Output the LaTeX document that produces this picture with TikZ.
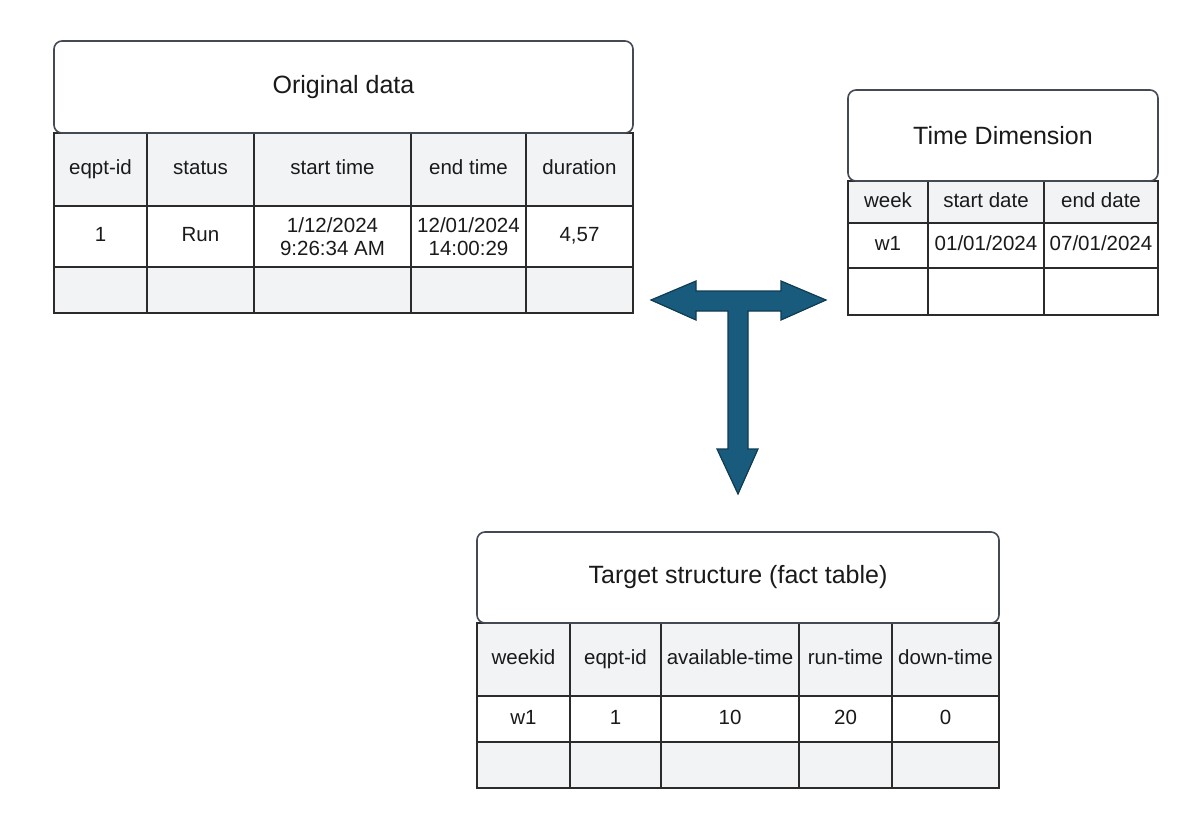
\documentclass[tikz,border=0pt]{standalone}
\usepackage{fontspec}
\setmainfont{Liberation Sans}
\begin{document}
\begin{tikzpicture}[x=1pt,y=-1pt,
  cellcore/.style={draw=cellline, line width=1.2pt, inner sep=0pt, outer sep=0pt, anchor=north west, align=center, text=txt, font=\fontsize{20.5}{23}\selectfont},
  cellbase/.style={cellcore, text height=14.7pt, text depth=4.3pt},
  hdr/.style={cellbase, fill=hdrgray},
  dat/.style={cellbase, fill=white},
  dat2/.style={cellcore, fill=white},
  emp/.style={cellbase, fill=hdrgray},
  empw/.style={cellbase, fill=white},
  titlebox/.style={draw=titleline, line width=1.6pt, rounded corners=8pt, fill=white, inner sep=0pt, outer sep=0pt, anchor=north west, text=txt, font=\fontsize{25}{30}\selectfont},
  bigarrow/.style={fill=arrowfill, draw=arrowline, line width=1.2pt, line join=miter}
]
\definecolor{cellline}{HTML}{2B2B2B}
\definecolor{titleline}{HTML}{444A53}
\definecolor{hdrgray}{HTML}{F2F3F5}
\definecolor{txt}{HTML}{1A1A1A}
\definecolor{arrowfill}{HTML}{195B7D}
\definecolor{arrowline}{HTML}{103C52}
\useasboundingbox (0,0) rectangle (1200,827);

% ---------- Original data ----------
\node[hdr, minimum width=93pt,  minimum height=73pt] (oh1) at (54,133)  {eqpt-id};
\node[hdr, minimum width=107pt, minimum height=73pt] (oh2) at (147,133) {status};
\node[hdr, minimum width=157pt, minimum height=73pt] (oh3) at (254,133) {start time};
\node[hdr, minimum width=115pt, minimum height=73pt] (oh4) at (411,133) {end time};
\node[hdr, minimum width=107pt, minimum height=73pt] (oh5) at (526,133) {duration};
\node[dat, minimum width=93pt,  minimum height=61pt] (od1) at (54,206)  {1};
\node[dat, minimum width=107pt, minimum height=61pt] (od2) at (147,206) {Run};
\node[dat2, minimum width=157pt, minimum height=61pt] (od3) at (254,206) {1/12/2024\\9:26:34 AM};
\node[dat2, minimum width=115pt, minimum height=61pt] (od4) at (411,206) {12/01/2024\\14:00:29};
\node[dat, minimum width=107pt, minimum height=61pt] (od5) at (526,206) {4,57};
\node[emp, minimum width=93pt,  minimum height=46pt] (oe1) at (54,267)  {};
\node[emp, minimum width=107pt, minimum height=46pt] (oe2) at (147,267) {};
\node[emp, minimum width=157pt, minimum height=46pt] (oe3) at (254,267) {};
\node[emp, minimum width=115pt, minimum height=46pt] (oe4) at (411,267) {};
\node[emp, minimum width=107pt, minimum height=46pt] (oe5) at (526,267) {};
\node[titlebox, minimum width=579pt, minimum height=92pt] (otitle) at (54,41) {Original data};

% ---------- Time Dimension ----------
\node[hdr, minimum width=80pt,  minimum height=42pt] (th1) at (848,181)  {week};
\node[hdr, minimum width=116pt, minimum height=42pt] (th2) at (928,181)  {start date};
\node[hdr, minimum width=114pt, minimum height=42pt] (th3) at (1044,181) {end date};
\node[dat, minimum width=80pt,  minimum height=45pt] (td1) at (848,223)  {w1};
\node[dat, minimum width=116pt, minimum height=45pt] (td2) at (928,223)  {01/01/2024};
\node[dat, minimum width=114pt, minimum height=45pt] (td3) at (1044,223) {07/01/2024};
\node[empw, minimum width=80pt,  minimum height=47pt] (te1) at (848,268)  {};
\node[empw, minimum width=116pt, minimum height=47pt] (te2) at (928,268)  {};
\node[empw, minimum width=114pt, minimum height=47pt] (te3) at (1044,268) {};
\node[titlebox, minimum width=310pt, minimum height=91pt] (ttitle) at (848,90) {Time Dimension};

% ---------- Target structure ----------
\node[hdr, minimum width=93pt,  minimum height=73pt] (fh1) at (477,623) {weekid};
\node[hdr, minimum width=91pt,  minimum height=73pt] (fh2) at (570,623) {eqpt-id};
\node[hdr, minimum width=138pt, minimum height=73pt] (fh3) at (661,623) {available-time};
\node[hdr, minimum width=93pt,  minimum height=73pt] (fh4) at (799,623) {run-time};
\node[hdr, minimum width=107pt, minimum height=73pt] (fh5) at (892,623) {down-time};
\node[dat, minimum width=93pt,  minimum height=46pt] (fd1) at (477,696) {w1};
\node[dat, minimum width=91pt,  minimum height=46pt] (fd2) at (570,696) {1};
\node[dat, minimum width=138pt, minimum height=46pt] (fd3) at (661,696) {10};
\node[dat, minimum width=93pt,  minimum height=46pt] (fd4) at (799,696) {20};
\node[dat, minimum width=107pt, minimum height=46pt] (fd5) at (892,696) {0};
\node[emp, minimum width=93pt,  minimum height=46pt] (fe1) at (477,742) {};
\node[emp, minimum width=91pt,  minimum height=46pt] (fe2) at (570,742) {};
\node[emp, minimum width=138pt, minimum height=46pt] (fe3) at (661,742) {};
\node[emp, minimum width=93pt,  minimum height=46pt] (fe4) at (799,742) {};
\node[emp, minimum width=107pt, minimum height=46pt] (fe5) at (892,742) {};
\node[titlebox, minimum width=522pt, minimum height=91pt] (ftitle) at (477,532) {Target structure (fact table)};

% ---------- T-shaped block arrow ----------
\draw[bigarrow] (651,300) -- (696,281) -- (696,291) -- (781,291) -- (781,281)
  -- (826,300) -- (781,320) -- (781,311) -- (748,311) -- (748,449) -- (758,449)
  -- (738,494) -- (717,449) -- (728,449) -- (728,311) -- (696,311) -- (696,320) -- cycle;
\end{tikzpicture}
\end{document}
